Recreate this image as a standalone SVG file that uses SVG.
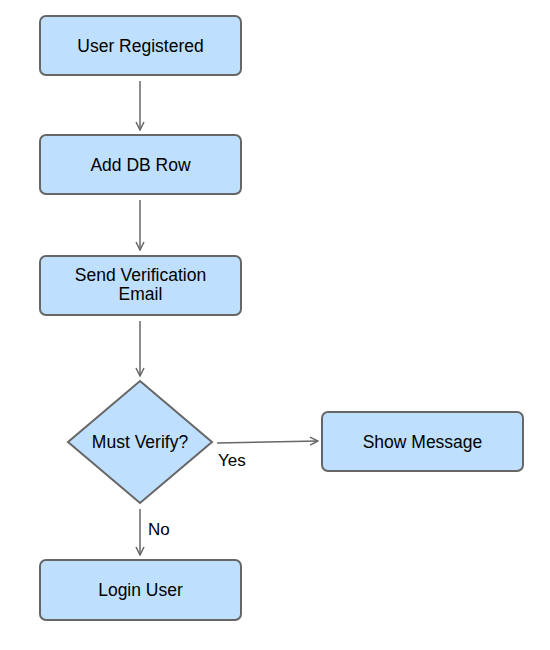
<svg xmlns="http://www.w3.org/2000/svg" width="550" height="650" viewBox="0 0 550 650">
<style>
.n{fill:#bfdfff;stroke:#666;stroke-width:2}
.t{font-family:"Liberation Sans",Arial,sans-serif;font-size:17.5px;fill:#000;text-anchor:middle}
.l{font-family:"Liberation Sans",Arial,sans-serif;font-size:17px;fill:#000}
.c{fill:none;stroke:#666;stroke-width:1.5}
</style>
<defs>
<marker id="a" viewBox="0 0 10 10" refX="9" refY="5" markerWidth="10" markerHeight="10" markerUnits="userSpaceOnUse" orient="auto">
<path d="M1,1 L9,5 L1,9" fill="none" stroke="#666" stroke-width="1.5"/>
</marker>
</defs>
<rect width="550" height="650" fill="#fff"/>
<g id="connectors">
<path class="c" d="M140,81 L140,130" marker-end="url(#a)"/>
<path class="c" d="M140,200 L140,250" marker-end="url(#a)"/>
<path class="c" d="M140,321 L140,376" marker-end="url(#a)"/>
<path class="c" d="M217,443 L318,441" marker-end="url(#a)"/>
<path class="c" d="M140,509 L140,555" marker-end="url(#a)"/>
<text class="l" x="218" y="466">Yes</text>
<text class="l" x="148" y="535">No</text>
</g>
<g id="user-registered">
<rect class="n" x="40" y="16" width="201" height="59" rx="6"/>
<text class="t" x="140.5" y="51.5">User Registered</text>
</g>
<g id="add-db-row">
<rect class="n" x="40" y="135" width="201" height="59" rx="6"/>
<text class="t" x="140.5" y="170.5">Add DB Row</text>
</g>
<g id="send-verification">
<rect class="n" x="40" y="256" width="201" height="59" rx="6"/>
<text class="t" x="140.5" y="281">Send Verification</text>
<text class="t" x="140.5" y="300">Email</text>
</g>
<g id="must-verify">
<polygon class="n" points="140,381 212,442 140,503 68,442"/>
<text class="t" x="140" y="447.5">Must Verify?</text>
</g>
<g id="show-message">
<rect class="n" x="322" y="412" width="201" height="59" rx="6"/>
<text class="t" x="422.5" y="447.5">Show Message</text>
</g>
<g id="login-user">
<rect class="n" x="40" y="560" width="201" height="60" rx="6"/>
<text class="t" x="140.5" y="595.5">Login User</text>
</g>
</svg>
